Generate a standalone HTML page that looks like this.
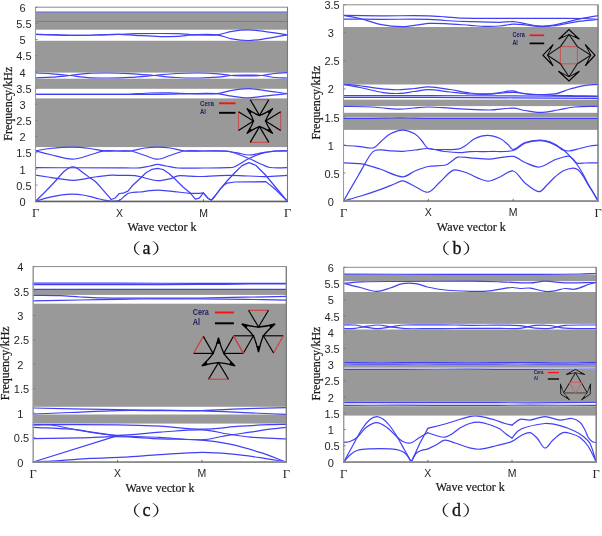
<!DOCTYPE html>
<html><head><meta charset="utf-8"><title>Band structures</title>
<style>html,body{margin:0;padding:0;background:#fff;}svg{display:block;}</style>
</head><body>
<svg width="602" height="536" viewBox="0 0 602 536"><rect x="0" y="0" width="602" height="536" fill="#ffffff"/>
<rect x="35.50" y="12.60" width="252.00" height="17.10" fill="#999999"/>
<rect x="35.50" y="40.80" width="252.00" height="31.80" fill="#999999"/>
<rect x="35.50" y="78.70" width="252.00" height="10.10" fill="#999999"/>
<rect x="35.50" y="98.40" width="252.00" height="48.70" fill="#999999"/>
<line x1="35.50" y1="12.20" x2="287.50" y2="12.20" stroke="#6262b8" stroke-width="1.30"/>
<line x1="35.50" y1="21.50" x2="287.50" y2="21.50" stroke="#7a7aa6" stroke-width="1.00"/>
<path d="M35.50 34.30 C42.33 34.50 49.17 34.73 56.00 34.90 C62.67 35.06 69.33 35.30 76.00 35.30 C84.00 35.30 92.00 35.08 100.00 34.90 C106.50 34.75 113.00 34.52 119.50 34.30 C124.67 34.12 129.83 33.80 135.00 33.70 C143.33 33.54 151.67 33.50 160.00 33.50 C166.00 33.50 172.00 33.54 178.00 33.70 C180.67 33.77 183.34 33.99 186.00 34.20 C188.00 34.36 189.99 34.76 192.00 34.80 C200.33 34.96 208.75 35.52 217.00 34.80 C222.08 34.36 226.94 32.10 232.00 31.30 C237.27 30.47 242.67 29.90 248.00 29.90 C253.33 29.90 258.69 30.64 264.00 31.30 C271.86 32.27 279.67 33.63 287.50 34.80" fill="none" stroke="#4040f6" stroke-width="1.20" stroke-linejoin="round" stroke-linecap="round"/>
<path d="M35.50 34.30 C42.33 34.50 49.17 34.73 56.00 34.90 C62.67 35.06 69.33 35.30 76.00 35.30 C84.00 35.30 92.00 35.08 100.00 34.90 C106.50 34.75 113.00 34.23 119.50 34.30 C124.67 34.36 129.83 35.01 135.00 35.30 C143.33 35.77 151.66 36.41 160.00 36.60 C166.00 36.74 172.01 36.53 178.00 36.30 C180.67 36.20 183.34 35.89 186.00 35.60 C188.01 35.39 189.99 34.85 192.00 34.80 C200.32 34.59 208.78 33.96 217.00 34.80 C222.11 35.32 226.92 37.97 232.00 38.90 C237.25 39.87 242.67 40.50 248.00 40.50 C253.33 40.50 258.70 39.67 264.00 38.90 C271.87 37.77 279.67 36.17 287.50 34.80" fill="none" stroke="#4040f6" stroke-width="1.20" stroke-linejoin="round" stroke-linecap="round"/>
<path d="M35.50 73.00 C41.00 73.27 46.51 73.40 52.00 73.80 C57.88 74.23 63.74 74.88 69.60 75.50 C75.74 76.15 81.85 77.20 88.00 77.60 C94.65 78.03 101.33 78.03 108.00 78.00 C115.33 77.97 122.68 77.80 130.00 77.40 C137.94 76.97 145.87 76.17 153.80 75.50 C161.20 74.87 168.59 73.91 176.00 73.50 C183.65 73.08 191.34 72.95 199.00 73.00 C205.34 73.05 211.69 73.31 218.00 73.80 C222.45 74.14 226.85 75.17 231.30 75.50 C236.18 75.87 241.10 75.90 246.00 75.90 C251.17 75.90 256.36 75.93 261.50 75.50 C266.03 75.13 270.48 73.99 275.00 73.50 C279.15 73.05 283.33 72.97 287.50 72.70" fill="none" stroke="#4040f6" stroke-width="1.20" stroke-linejoin="round" stroke-linecap="round"/>
<path d="M35.50 77.80 C41.00 77.60 46.51 77.57 52.00 77.20 C57.88 76.80 63.74 76.12 69.60 75.50 C75.74 74.85 81.85 73.80 88.00 73.40 C94.65 72.97 101.33 72.97 108.00 73.00 C115.33 73.03 122.68 73.20 130.00 73.60 C137.94 74.03 145.87 74.83 153.80 75.50 C161.20 76.13 168.59 77.09 176.00 77.50 C183.65 77.92 191.34 78.05 199.00 78.00 C205.34 77.95 211.69 77.69 218.00 77.20 C222.45 76.86 226.85 75.83 231.30 75.50 C236.18 75.13 241.10 75.10 246.00 75.10 C251.17 75.10 256.36 75.07 261.50 75.50 C266.03 75.87 270.48 77.07 275.00 77.50 C279.14 77.90 283.33 77.83 287.50 78.00" fill="none" stroke="#4040f6" stroke-width="1.20" stroke-linejoin="round" stroke-linecap="round"/>
<path d="M35.50 94.40 C63.50 94.40 91.50 94.46 119.50 94.40 C123.00 94.39 126.50 94.36 130.00 94.20 C136.67 93.89 143.33 93.22 150.00 93.00 C156.66 92.78 163.34 92.78 170.00 92.90 C176.67 93.02 183.33 93.59 190.00 93.70 C199.00 93.85 208.08 94.42 217.00 93.70 C222.08 93.29 226.95 91.11 232.00 90.30 C237.28 89.45 242.67 88.70 248.00 88.70 C253.33 88.70 258.68 89.63 264.00 90.30 C271.85 91.29 279.67 92.57 287.50 93.70" fill="none" stroke="#4040f6" stroke-width="1.20" stroke-linejoin="round" stroke-linecap="round"/>
<path d="M35.50 94.40 C63.50 94.40 91.50 94.37 119.50 94.40 C123.00 94.40 126.50 94.50 130.00 94.50 C136.67 94.50 143.33 94.45 150.00 94.40 C156.67 94.35 163.33 94.32 170.00 94.20 C176.67 94.08 183.33 93.77 190.00 93.70 C199.00 93.60 208.04 93.17 217.00 93.70 C222.04 94.00 226.98 95.54 232.00 96.20 C237.31 96.90 242.67 97.80 248.00 97.80 C253.33 97.80 258.67 96.75 264.00 96.20 C271.84 95.39 279.67 94.53 287.50 93.70" fill="none" stroke="#4040f6" stroke-width="1.20" stroke-linejoin="round" stroke-linecap="round"/>
<path d="M35.50 150.80 C40.33 150.03 45.14 148.97 50.00 148.50 C57.44 147.77 64.94 147.20 72.40 147.20 C78.27 147.20 84.16 147.83 90.00 148.50 C94.63 149.03 99.17 150.41 103.80 150.80 C109.00 151.24 114.27 150.96 119.50 151.00 C123.27 151.03 127.08 151.44 130.80 151.00 C135.58 150.44 140.22 148.68 145.00 148.00 C149.16 147.41 153.40 147.20 157.60 147.20 C161.73 147.20 165.91 147.42 170.00 148.00 C174.84 148.69 179.54 150.56 184.40 151.00 C190.71 151.56 197.13 151.00 203.50 151.00 C210.67 151.00 217.86 150.62 225.00 151.00 C229.03 151.22 233.01 152.14 237.00 152.80 C241.01 153.47 244.99 155.00 249.00 155.00 C253.33 155.00 257.66 153.47 262.00 152.80 C266.32 152.13 270.65 151.34 275.00 151.00 C279.15 150.67 283.33 150.87 287.50 150.80" fill="none" stroke="#4040f6" stroke-width="1.20" stroke-linejoin="round" stroke-linecap="round"/>
<path d="M35.50 150.80 C40.33 152.03 45.13 153.41 50.00 154.50 C57.43 156.17 64.95 159.01 72.40 159.10 C78.29 159.17 84.18 156.54 90.00 155.00 C94.65 153.77 99.09 151.44 103.80 150.80 C108.92 150.11 114.27 150.96 119.50 151.00 C123.27 151.03 127.13 150.35 130.80 151.00 C135.63 151.85 140.25 154.05 145.00 155.50 C149.19 156.78 153.40 159.20 157.60 159.20 C161.74 159.20 165.88 156.76 170.00 155.50 C174.81 154.03 179.47 151.66 184.40 151.00 C190.64 150.16 197.13 150.97 203.50 151.00 C210.67 151.04 217.85 150.90 225.00 151.20 C227.35 151.30 229.76 151.52 232.00 152.20 C237.76 153.95 243.41 156.21 249.00 158.50 C253.41 160.31 257.62 162.62 262.00 164.50 C264.62 165.62 267.21 167.15 270.00 167.50 C275.71 168.22 281.67 167.63 287.50 167.70" fill="none" stroke="#4040f6" stroke-width="1.20" stroke-linejoin="round" stroke-linecap="round"/>
<path d="M35.50 167.70 C63.50 167.77 91.50 167.87 119.50 167.90 C126.33 167.91 133.20 168.22 140.00 167.80 C143.37 167.59 146.67 166.64 150.00 166.00 C152.54 165.51 155.06 164.40 157.60 164.40 C160.39 164.40 163.19 165.50 166.00 166.00 C169.99 166.70 173.96 167.78 178.00 168.00 C186.46 168.45 195.00 168.05 203.50 168.00 C211.67 167.95 219.84 167.97 228.00 167.70 C230.01 167.63 232.18 167.80 234.00 167.00 C239.18 164.73 243.85 161.02 249.00 158.50 C253.18 156.45 257.53 154.55 262.00 153.30 C266.20 152.12 270.64 151.63 275.00 151.20 C279.14 150.79 283.33 150.93 287.50 150.80" fill="none" stroke="#4040f6" stroke-width="1.20" stroke-linejoin="round" stroke-linecap="round"/>
<path d="M35.50 175.10 C40.33 175.83 45.16 176.60 50.00 177.30 C57.46 178.37 64.93 180.08 72.40 180.40 C76.60 180.58 80.81 179.43 85.00 178.80 C88.35 178.30 91.64 177.45 95.00 177.00 C100.64 176.25 106.32 175.57 112.00 175.20 C114.49 175.04 117.00 175.36 119.50 175.40 C124.67 175.49 129.89 175.08 135.00 175.60 C138.39 175.95 141.66 177.25 145.00 178.00 C149.19 178.95 153.38 180.56 157.60 180.70 C161.71 180.83 165.95 179.77 170.00 178.80 C172.75 178.14 175.23 176.16 178.00 175.80 C181.89 175.29 186.00 176.09 190.00 176.20 C194.50 176.32 199.00 176.57 203.50 176.50 C207.34 176.44 211.16 175.96 215.00 175.80 C220.00 175.59 225.00 175.37 230.00 175.40 C236.33 175.44 242.67 175.78 249.00 176.00 C254.33 176.18 259.67 176.68 265.00 176.60 C272.50 176.48 280.00 175.80 287.50 175.40" fill="none" stroke="#4040f6" stroke-width="1.20" stroke-linejoin="round" stroke-linecap="round"/>
<path d="M35.50 201.30 C38.67 198.20 41.89 195.16 45.00 192.00 C48.39 188.56 51.72 185.05 55.00 181.50 C57.72 178.55 60.17 175.33 63.00 172.50 C64.50 171.00 66.20 169.59 68.00 168.50 C69.33 167.69 70.91 166.85 72.40 166.80 C73.91 166.75 75.63 167.42 77.00 168.20 C79.16 169.42 80.97 171.30 83.00 172.80 C85.31 174.50 87.66 176.14 90.00 177.80 C91.66 178.98 93.53 179.91 95.00 181.30 C98.20 184.34 101.05 187.79 104.00 191.10 C106.45 193.85 108.80 196.70 111.20 199.50" fill="none" stroke="#4040f6" stroke-width="1.20" stroke-linejoin="round" stroke-linecap="round"/>
<path d="M111.20 199.50 L114.80 198.30 L119.30 193.50 L123.10 193.20 L127.90 191.10 L133.00 185.00 L139.30 179.20 L146.00 172.80 L152.00 169.30 L157.60 168.40 L163.00 169.50 L169.00 173.50 L176.00 180.00 L183.00 187.00 L190.60 193.30 L195.30 199.20 L199.30 198.20 L203.30 192.90 L207.90 198.20 L211.50 200.20 L215.00 196.00 L220.00 189.30 L227.00 181.00 L235.00 172.50 L242.00 165.60 L249.00 162.60 L256.00 165.50 L265.00 174.50 L275.00 186.50 L287.50 201.30" fill="none" stroke="#4040f6" stroke-width="1.20" stroke-linejoin="round" stroke-linecap="round"/>
<path d="M35.50 201.30 C40.33 199.93 45.13 198.40 50.00 197.20 C53.96 196.23 57.97 195.36 62.00 194.80 C65.43 194.32 68.94 194.07 72.40 194.10 C75.94 194.13 79.51 194.43 83.00 195.00 C87.04 195.66 91.01 196.83 95.00 197.80 C98.01 198.53 100.97 199.49 104.00 200.10 C106.30 200.56 108.66 200.91 111.00 201.00 C113.66 201.11 116.57 201.42 119.00 200.70 C120.60 200.22 121.74 198.50 123.10 197.40 C124.70 196.10 126.11 194.40 127.90 193.50 C129.41 192.74 131.28 192.61 133.00 192.40 C135.31 192.11 137.68 192.25 140.00 192.00 C143.34 191.65 146.65 190.94 150.00 190.60 C152.52 190.34 155.07 190.17 157.60 190.20 C160.73 190.24 163.87 190.52 167.00 190.80 C170.67 191.12 174.33 191.60 178.00 192.00 C182.00 192.43 185.99 193.04 190.00 193.30 C192.66 193.47 195.34 193.38 198.00 193.30 C199.77 193.25 201.53 193.03 203.30 192.90" fill="none" stroke="#4040f6" stroke-width="1.20" stroke-linejoin="round" stroke-linecap="round"/>
<path d="M203.30 192.90 L207.90 198.20 L211.50 200.20 L215.00 196.00 L220.00 189.30 L224.00 185.00 L227.00 183.20 L235.00 182.00 L250.00 181.90 L265.80 181.60 L275.00 189.00 L287.50 201.30" fill="none" stroke="#4040f6" stroke-width="1.20" stroke-linejoin="round" stroke-linecap="round"/>
<text x="200.00" y="105.90" font-size="7.60" font-family='"Liberation Sans", Arial, sans-serif' font-weight="bold" fill="#22225e" textLength="13.90" lengthAdjust="spacingAndGlyphs">Cera</text>
<text x="200.00" y="114.30" font-size="7.60" font-family='"Liberation Sans", Arial, sans-serif' font-weight="bold" fill="#22225e" textLength="5.90" lengthAdjust="spacingAndGlyphs">Al</text>
<line x1="219.00" y1="103.30" x2="235.50" y2="103.30" stroke="#ff1010" stroke-width="1.90"/>
<line x1="219.00" y1="112.80" x2="235.50" y2="112.80" stroke="#000" stroke-width="1.90"/>
<line x1="250.2" y1="99.7" x2="268.8" y2="99.7" stroke="#c85050" stroke-width="1.1"/>
<line x1="250.2" y1="142.4" x2="268.8" y2="142.4" stroke="#c85050" stroke-width="1.1"/>
<line x1="238.5" y1="111.8" x2="238.5" y2="130.4" stroke="#c85050" stroke-width="1.1"/>
<line x1="280.7" y1="111.8" x2="280.7" y2="130.4" stroke="#c85050" stroke-width="1.1"/>
<line x1="250.2" y1="99.7" x2="259.5" y2="115.4" stroke="#000" stroke-width="1.2"/>
<line x1="268.8" y1="99.7" x2="259.5" y2="115.4" stroke="#000" stroke-width="1.2"/>
<line x1="250.2" y1="142.4" x2="259.5" y2="126.6" stroke="#000" stroke-width="1.2"/>
<line x1="268.8" y1="142.4" x2="259.5" y2="126.6" stroke="#000" stroke-width="1.2"/>
<line x1="238.5" y1="111.8" x2="253.4" y2="120.9" stroke="#000" stroke-width="1.2"/>
<line x1="238.5" y1="130.4" x2="253.4" y2="120.9" stroke="#000" stroke-width="1.2"/>
<line x1="280.7" y1="111.8" x2="265.6" y2="120.9" stroke="#000" stroke-width="1.2"/>
<line x1="280.7" y1="130.4" x2="265.6" y2="120.9" stroke="#000" stroke-width="1.2"/>
<path d="M246.80 108.40 Q254.44 113.72 259.50 115.40 Q264.84 113.72 272.80 108.40 Q267.28 115.92 265.60 120.90 Q267.28 125.96 272.80 133.50 Q264.84 128.24 259.50 126.60 Q254.44 128.24 246.80 133.50 Q252.00 125.96 253.40 120.90 Q252.00 115.92 246.80 108.40 Z" fill="none" stroke="#000" stroke-width="1.25" stroke-linejoin="miter"/>
<path d="M246.80 108.40 L249.77 114.03 L252.52 111.55 Z" fill="#000"/>
<path d="M272.80 108.40 L266.81 111.55 L269.56 114.03 Z" fill="#000"/>
<path d="M272.80 133.50 L269.56 127.83 L266.81 130.40 Z" fill="#000"/>
<path d="M246.80 133.50 L252.52 130.40 L249.77 127.83 Z" fill="#000"/>
<circle cx="259.50" cy="115.40" r="0.9" fill="#000"/>
<circle cx="265.60" cy="120.90" r="0.9" fill="#000"/>
<circle cx="259.50" cy="126.60" r="0.9" fill="#000"/>
<circle cx="253.40" cy="120.90" r="0.9" fill="#000"/>
<rect x="35.50" y="7.20" width="252.00" height="194.10" fill="none" stroke="#8a8a8a" stroke-width="1"/>
<line x1="287.50" y1="7.20" x2="287.50" y2="201.30" stroke="#787878" stroke-width="1.1"/>
<line x1="35.00" y1="201.50" x2="288.00" y2="201.50" stroke="#5e5e5e" stroke-width="1.50"/>
<line x1="35.50" y1="7.20" x2="35.50" y2="201.30" stroke="#9c9c9c" stroke-width="1.1"/>
<line x1="35.50" y1="201.30" x2="37.70" y2="201.30" stroke="#777" stroke-width="0.8"/>
<text x="22.60" y="205.90" font-size="11.00" font-family='"Liberation Sans", Arial, sans-serif' text-anchor="middle" fill="#262626">0</text>
<line x1="35.50" y1="185.12" x2="37.70" y2="185.12" stroke="#777" stroke-width="0.8"/>
<text x="23.90" y="189.72" font-size="11.00" font-family='"Liberation Sans", Arial, sans-serif' text-anchor="middle" fill="#262626">0.5</text>
<line x1="35.50" y1="168.95" x2="37.70" y2="168.95" stroke="#777" stroke-width="0.8"/>
<text x="22.60" y="173.55" font-size="11.00" font-family='"Liberation Sans", Arial, sans-serif' text-anchor="middle" fill="#262626">1</text>
<line x1="35.50" y1="152.78" x2="37.70" y2="152.78" stroke="#777" stroke-width="0.8"/>
<text x="23.90" y="157.38" font-size="11.00" font-family='"Liberation Sans", Arial, sans-serif' text-anchor="middle" fill="#262626">1.5</text>
<line x1="35.50" y1="136.60" x2="37.70" y2="136.60" stroke="#777" stroke-width="0.8"/>
<text x="22.60" y="141.20" font-size="11.00" font-family='"Liberation Sans", Arial, sans-serif' text-anchor="middle" fill="#262626">2</text>
<line x1="35.50" y1="120.43" x2="37.70" y2="120.43" stroke="#777" stroke-width="0.8"/>
<text x="23.90" y="125.03" font-size="11.00" font-family='"Liberation Sans", Arial, sans-serif' text-anchor="middle" fill="#262626">2.5</text>
<line x1="35.50" y1="104.25" x2="37.70" y2="104.25" stroke="#777" stroke-width="0.8"/>
<text x="22.60" y="108.85" font-size="11.00" font-family='"Liberation Sans", Arial, sans-serif' text-anchor="middle" fill="#262626">3</text>
<line x1="35.50" y1="88.08" x2="37.70" y2="88.08" stroke="#777" stroke-width="0.8"/>
<text x="23.90" y="92.67" font-size="11.00" font-family='"Liberation Sans", Arial, sans-serif' text-anchor="middle" fill="#262626">3.5</text>
<line x1="35.50" y1="71.90" x2="37.70" y2="71.90" stroke="#777" stroke-width="0.8"/>
<text x="22.60" y="76.50" font-size="11.00" font-family='"Liberation Sans", Arial, sans-serif' text-anchor="middle" fill="#262626">4</text>
<line x1="35.50" y1="55.72" x2="37.70" y2="55.72" stroke="#777" stroke-width="0.8"/>
<text x="23.90" y="60.32" font-size="11.00" font-family='"Liberation Sans", Arial, sans-serif' text-anchor="middle" fill="#262626">4.5</text>
<line x1="35.50" y1="39.55" x2="37.70" y2="39.55" stroke="#777" stroke-width="0.8"/>
<text x="22.60" y="44.15" font-size="11.00" font-family='"Liberation Sans", Arial, sans-serif' text-anchor="middle" fill="#262626">5</text>
<line x1="35.50" y1="23.38" x2="37.70" y2="23.38" stroke="#777" stroke-width="0.8"/>
<text x="23.90" y="27.98" font-size="11.00" font-family='"Liberation Sans", Arial, sans-serif' text-anchor="middle" fill="#262626">5.5</text>
<line x1="35.50" y1="7.20" x2="37.70" y2="7.20" stroke="#777" stroke-width="0.8"/>
<text x="22.60" y="11.80" font-size="11.00" font-family='"Liberation Sans", Arial, sans-serif' text-anchor="middle" fill="#262626">6</text>
<line x1="119.50" y1="201.30" x2="119.50" y2="199.10" stroke="#555" stroke-width="0.8"/>
<line x1="203.50" y1="201.30" x2="203.50" y2="199.10" stroke="#555" stroke-width="0.8"/>
<text x="35.50" y="216.80" font-size="12.50" font-family='"Liberation Serif", "Times New Roman", serif' text-anchor="middle" fill="#262626">Γ</text>
<text x="287.50" y="216.80" font-size="12.50" font-family='"Liberation Serif", "Times New Roman", serif' text-anchor="middle" fill="#262626">Γ</text>
<text x="119.50" y="216.50" font-size="10.50" font-family='"Liberation Sans", Arial, sans-serif' text-anchor="middle" fill="#262626">X</text>
<text x="203.50" y="216.50" font-size="10.50" font-family='"Liberation Sans", Arial, sans-serif' text-anchor="middle" fill="#262626">M</text>
<text x="161.90" y="231.00" font-size="12.00" font-family='"Liberation Serif", "Times New Roman", serif' text-anchor="middle" fill="#1a1a1a" stroke="#1a1a1a" stroke-width="0.22">Wave vector k</text>
<text x="11.70" y="103.70" font-size="12" font-family='"Liberation Serif", "Times New Roman", serif' text-anchor="middle" fill="#1a1a1a" stroke="#1a1a1a" stroke-width="0.22" transform="rotate(-90 11.70 103.70)">Frequency/kHz</text>
<text transform="translate(120.57 253.60) scale(1.35 1)" font-size="15.3" font-family='"Liberation Serif", "Noto Serif CJK SC", "Noto Sans CJK SC", serif' fill="#1a1a1a">（</text>
<text x="142.40" y="253.60" font-size="18.00" font-family='"Liberation Serif", "Times New Roman", serif' text-anchor="start" fill="#111" stroke="#111" stroke-width="0.3">a</text>
<text transform="translate(151.36 253.60) scale(1.35 1)" font-size="15.3" font-family='"Liberation Serif", "Noto Serif CJK SC", "Noto Sans CJK SC", serif' fill="#1a1a1a">）</text>
<rect x="343.50" y="27.00" width="254.50" height="57.50" fill="#999999"/>
<rect x="343.50" y="99.70" width="254.50" height="6.40" fill="#999999"/>
<rect x="343.50" y="112.80" width="254.50" height="4.20" fill="#999999"/>
<rect x="343.50" y="117.90" width="254.50" height="12.00" fill="#999999"/>
<line x1="343.50" y1="117.40" x2="598.00" y2="117.40" stroke="#c9c9c0" stroke-width="0.70"/>
<path d="M343.50 15.40 C355.67 15.53 367.83 15.74 380.00 15.80 C396.10 15.88 412.21 15.55 428.30 15.80 C433.87 15.89 439.44 16.42 445.00 16.80 C450.67 17.19 456.32 17.98 462.00 18.10 C479.05 18.48 496.13 18.27 513.20 18.30 C528.80 18.33 544.40 18.26 560.00 18.30 C568.33 18.32 576.67 18.28 585.00 18.50 C589.34 18.61 593.67 19.03 598.00 19.30" fill="none" stroke="#4040f6" stroke-width="1.20" stroke-linejoin="round" stroke-linecap="round"/>
<path d="M343.50 19.10 C355.67 19.17 367.83 19.27 380.00 19.30 C396.10 19.34 412.21 19.00 428.30 19.30 C433.88 19.40 439.43 20.19 445.00 20.50 C453.33 20.96 461.66 21.33 470.00 21.60 C480.00 21.93 490.00 22.30 500.00 22.30 C504.40 22.30 508.82 21.39 513.20 21.60 C517.16 21.79 521.07 22.82 525.00 23.50 C529.34 24.25 533.63 25.61 538.00 25.90 C542.63 26.21 547.38 25.88 552.00 25.30 C556.38 24.75 560.68 23.50 565.00 22.50 C570.02 21.34 574.96 19.85 580.00 18.80 C585.96 17.55 592.00 16.67 598.00 15.60" fill="none" stroke="#4040f6" stroke-width="1.20" stroke-linejoin="round" stroke-linecap="round"/>
<path d="M343.50 15.40 C349.00 16.43 354.57 17.18 360.00 18.50 C366.74 20.14 373.21 22.99 380.00 24.30 C387.21 25.69 394.67 26.55 402.00 26.60 C408.00 26.65 414.01 25.33 420.00 24.60 C422.77 24.26 425.51 23.51 428.30 23.40 C433.85 23.18 439.44 23.35 445.00 23.60 C453.34 23.98 461.67 24.72 470.00 25.30 C475.00 25.65 479.99 26.28 485.00 26.40 C489.99 26.52 495.02 26.39 500.00 26.00 C504.42 25.66 508.78 24.39 513.20 24.20 C517.12 24.03 521.08 24.54 525.00 24.90 C529.35 25.30 533.65 26.32 538.00 26.50 C542.65 26.69 547.36 26.46 552.00 26.00 C556.36 25.56 560.67 24.54 565.00 23.80 C570.00 22.94 574.97 21.86 580.00 21.20 C585.97 20.42 592.00 20.07 598.00 19.50" fill="none" stroke="#4040f6" stroke-width="1.20" stroke-linejoin="round" stroke-linecap="round"/>
<path d="M343.50 84.30 C348.33 84.70 353.18 84.95 358.00 85.50 C362.82 86.05 367.59 86.96 372.40 87.60 C376.92 88.20 381.45 88.86 386.00 89.20 C390.82 89.56 395.67 89.82 400.50 89.70 C405.01 89.59 409.50 88.95 414.00 88.50 C418.87 88.01 423.74 86.76 428.60 86.90 C435.74 87.10 442.89 88.45 450.00 89.50 C456.69 90.49 463.29 92.21 470.00 93.00 C475.76 93.68 481.61 94.00 487.40 93.90 C491.61 93.83 495.80 93.00 500.00 92.50 C504.40 91.97 508.86 90.60 513.20 90.80 C516.20 90.94 519.00 92.90 522.00 93.50 C525.37 94.17 528.85 94.56 532.30 94.60 C539.75 94.69 547.38 94.99 554.70 93.90 C559.95 93.12 564.85 90.47 570.00 89.00 C574.55 87.70 579.14 86.38 583.80 85.60 C588.47 84.82 593.27 84.73 598.00 84.30" fill="none" stroke="#4040f6" stroke-width="1.20" stroke-linejoin="round" stroke-linecap="round"/>
<path d="M343.50 84.30 C349.00 85.37 354.52 86.35 360.00 87.50 C367.75 89.12 375.39 91.46 383.20 92.60 C388.89 93.43 394.76 93.61 400.50 93.40 C405.02 93.24 409.49 92.09 414.00 91.50 C418.86 90.86 423.73 89.63 428.60 89.70 C435.73 89.80 442.86 91.26 450.00 92.00 C456.66 92.69 463.32 93.63 470.00 94.00 C476.65 94.37 483.35 94.46 490.00 94.20 C497.75 93.90 505.47 92.34 513.20 92.30 C518.81 92.27 524.39 93.56 530.00 94.00 C536.66 94.52 543.33 94.93 550.00 95.20 C558.33 95.53 566.67 95.64 575.00 95.80 C582.67 95.94 590.33 96.00 598.00 96.10" fill="none" stroke="#4040f6" stroke-width="1.20" stroke-linejoin="round" stroke-linecap="round"/>
<path d="M343.50 95.70 C372.33 95.70 401.17 95.67 430.00 95.70 C457.67 95.73 485.33 95.75 513.00 95.90 C541.33 96.05 569.67 96.37 598.00 96.60" fill="none" stroke="#4040f6" stroke-width="1.20" stroke-linejoin="round" stroke-linecap="round"/>
<path d="M343.50 97.40 C372.33 97.40 401.17 97.33 430.00 97.40 C457.67 97.47 485.33 97.65 513.00 97.80 C541.33 97.95 569.67 98.13 598.00 98.30" fill="none" stroke="#4040f6" stroke-width="1.20" stroke-linejoin="round" stroke-linecap="round"/>
<path d="M343.50 106.30 C353.00 106.53 362.51 106.55 372.00 107.00 C376.68 107.22 381.33 107.94 386.00 108.30 C390.83 108.67 395.67 109.25 400.50 109.20 C405.00 109.15 409.50 108.35 414.00 108.00 C418.86 107.62 423.73 106.97 428.60 107.00 C435.73 107.04 442.87 107.80 450.00 108.20 C456.67 108.57 463.33 109.00 470.00 109.30 C476.66 109.60 483.34 110.17 490.00 110.00 C497.74 109.80 505.51 108.09 513.20 108.20 C517.17 108.26 521.04 109.88 525.00 110.50 C529.98 111.28 535.00 112.48 540.00 112.40 C546.00 112.31 552.02 110.92 558.00 110.00 C563.69 109.12 569.28 107.53 575.00 107.00 C582.62 106.30 590.33 106.53 598.00 106.30" fill="none" stroke="#4040f6" stroke-width="1.20" stroke-linejoin="round" stroke-linecap="round"/>
<path d="M343.50 118.40 C352.33 118.40 361.17 118.44 370.00 118.40 C375.00 118.38 380.00 118.30 385.00 118.20 C390.00 118.10 395.00 117.80 400.00 117.80 C405.00 117.80 410.00 118.10 415.00 118.20 C420.00 118.30 425.00 118.39 430.00 118.40 C453.33 118.45 476.67 118.41 500.00 118.40 C532.67 118.38 565.33 118.33 598.00 118.30" fill="none" stroke="#4040f6" stroke-width="1.20" stroke-linejoin="round" stroke-linecap="round"/>
<path d="M343.50 145.50 C348.33 145.77 353.17 145.93 358.00 146.30 C363.17 146.70 368.79 148.78 373.50 147.80 C376.46 147.18 378.50 143.59 381.00 141.50 C384.00 138.99 386.61 135.79 390.00 134.00 C393.81 131.99 398.40 130.10 402.60 130.10 C406.74 130.10 411.33 131.94 415.00 134.00 C417.80 135.57 419.77 138.57 422.00 141.00 C424.20 143.40 425.47 147.45 428.30 148.50 C433.14 150.29 439.43 149.37 445.00 149.50 C449.33 149.60 453.81 149.93 458.00 149.20 C460.48 148.77 462.84 147.36 465.00 146.00 C468.51 143.79 471.31 140.26 475.00 138.50 C478.78 136.70 483.26 135.30 487.40 135.30 C491.60 135.30 496.12 136.77 500.00 138.50 C502.99 139.83 505.44 142.37 508.00 144.50 C509.84 146.04 511.25 149.73 513.20 149.50 C516.91 149.06 520.77 144.02 525.00 142.50 C529.60 140.85 534.80 140.14 539.70 140.00 C543.13 139.90 546.73 140.72 550.00 141.80 C552.70 142.69 555.13 144.43 557.60 145.90 C559.46 147.00 561.33 148.14 563.00 149.50 C565.03 151.14 566.92 152.99 568.70 154.90 C571.58 157.99 574.47 161.12 577.00 164.50 C579.24 167.49 581.15 170.75 583.00 174.00 C584.82 177.21 586.21 180.67 588.00 183.90 C589.54 186.67 591.40 189.26 593.00 192.00 C594.73 194.96 596.33 198.00 598.00 201.00" fill="none" stroke="#4040f6" stroke-width="1.20" stroke-linejoin="round" stroke-linecap="round"/>
<path d="M343.50 201.00 C348.33 192.67 353.16 184.33 358.00 176.00 C362.16 168.83 365.88 161.29 370.50 154.50 C371.71 152.72 373.58 151.07 375.50 150.30 C377.41 149.53 379.84 149.83 382.00 149.90 C384.67 149.99 387.32 150.62 390.00 150.80 C394.19 151.08 398.41 151.43 402.60 151.30 C406.74 151.17 410.87 150.45 415.00 150.00 C419.44 149.52 423.89 148.28 428.30 148.50 C433.89 148.78 439.40 150.78 445.00 151.50 C449.97 152.14 455.00 152.58 460.00 152.60 C463.34 152.61 466.66 151.72 470.00 151.60 C476.66 151.36 483.34 151.67 490.00 151.50 C497.74 151.30 505.89 152.21 513.20 150.50 C517.55 149.48 520.75 144.87 525.00 143.30 C529.59 141.60 534.80 140.84 539.70 140.70 C543.14 140.60 546.71 141.54 550.00 142.60 C552.68 143.47 555.15 145.07 557.60 146.50 C559.15 147.40 560.37 148.94 562.00 149.60 C564.07 150.44 566.47 151.14 568.70 151.00 C572.47 150.77 576.24 149.38 580.00 148.50 C583.34 147.71 586.63 146.62 590.00 146.00 C592.63 145.52 595.33 145.47 598.00 145.20" fill="none" stroke="#4040f6" stroke-width="1.20" stroke-linejoin="round" stroke-linecap="round"/>
<path d="M343.50 162.80 C349.53 163.17 355.67 162.89 361.60 163.90 C367.84 164.96 373.93 167.09 380.00 169.00 C387.60 171.39 395.18 176.38 402.60 176.80 C406.85 177.04 410.77 172.69 415.00 171.00 C419.34 169.26 423.74 167.39 428.30 166.50 C434.01 165.39 440.24 166.29 445.80 165.00 C448.14 164.46 449.94 162.35 452.00 161.00 C453.91 159.75 455.56 157.58 457.70 157.20 C461.56 156.51 465.90 157.56 470.00 157.80 C476.67 158.19 483.35 159.32 490.00 159.10 C497.75 158.85 505.76 155.68 513.20 156.40 C517.43 156.81 520.91 160.86 525.00 162.50 C529.74 164.40 534.95 167.45 539.70 167.00 C544.91 166.51 549.74 161.90 554.90 159.70 C557.17 158.73 559.60 158.11 562.00 157.50 C564.20 156.94 566.61 155.91 568.70 156.20 C570.27 156.41 571.69 157.91 573.00 159.00 C574.46 160.21 575.33 162.54 577.00 163.10 C579.33 163.88 582.33 163.03 585.00 163.00 C589.33 162.96 593.67 162.93 598.00 162.90" fill="none" stroke="#4040f6" stroke-width="1.20" stroke-linejoin="round" stroke-linecap="round"/>
<path d="M343.50 201.00 C349.00 199.43 354.54 198.00 360.00 196.30 C366.71 194.20 373.39 191.98 380.00 189.60 C385.05 187.78 389.99 185.63 395.00 183.70 C397.52 182.73 400.11 180.55 402.60 180.90 C406.78 181.49 410.85 184.67 415.00 186.50 C419.42 188.44 424.28 192.92 428.30 192.20 C432.61 191.42 436.12 185.42 440.00 182.00 C444.48 178.05 448.38 172.05 453.40 170.10 C456.71 168.82 461.27 171.09 465.00 172.30 C472.47 174.72 479.59 180.01 487.00 181.00 C491.26 181.57 495.77 178.61 500.00 177.00 C504.51 175.28 509.34 170.07 513.20 171.00 C517.68 172.07 520.66 179.51 525.00 183.00 C529.26 186.41 534.51 191.29 539.00 191.70 C541.84 191.96 544.45 187.36 547.00 185.00 C549.75 182.46 552.09 179.46 554.90 177.00 C557.42 174.79 560.04 172.47 563.00 171.00 C566.00 169.51 569.55 168.31 572.80 168.10 C574.65 167.98 576.83 168.86 578.30 170.00 C580.23 171.49 581.59 173.89 583.00 176.00 C584.82 178.73 586.30 181.69 588.00 184.50 C589.63 187.19 591.37 189.81 593.00 192.50 C594.70 195.31 596.33 198.17 598.00 201.00" fill="none" stroke="#4040f6" stroke-width="1.20" stroke-linejoin="round" stroke-linecap="round"/>
<text x="512.40" y="36.90" font-size="6.40" font-family='"Liberation Sans", Arial, sans-serif' font-weight="bold" fill="#22225e" textLength="12.40" lengthAdjust="spacingAndGlyphs">Cera</text>
<text x="512.40" y="44.80" font-size="6.40" font-family='"Liberation Sans", Arial, sans-serif' font-weight="bold" fill="#22225e" textLength="5.50" lengthAdjust="spacingAndGlyphs">Al</text>
<line x1="529.60" y1="35.30" x2="544.20" y2="35.30" stroke="#ff1010" stroke-width="1.70"/>
<line x1="529.60" y1="43.40" x2="544.20" y2="43.40" stroke="#000" stroke-width="1.70"/>
<rect x="560.4" y="46.6" width="17.0" height="17.2" fill="none" stroke="#c05a5a" stroke-width="1.1"/>
<line x1="569.0" y1="34.5" x2="560.4" y2="46.6" stroke="#111" stroke-width="1.1"/>
<line x1="569.0" y1="34.5" x2="577.4" y2="46.6" stroke="#111" stroke-width="1.1"/>
<line x1="569.0" y1="76.8" x2="577.4" y2="63.8" stroke="#111" stroke-width="1.1"/>
<line x1="569.0" y1="76.8" x2="560.4" y2="63.8" stroke="#111" stroke-width="1.1"/>
<line x1="547.5" y1="55.2" x2="560.4" y2="46.6" stroke="#111" stroke-width="1.1"/>
<line x1="547.5" y1="55.2" x2="560.4" y2="63.8" stroke="#111" stroke-width="1.1"/>
<line x1="590.8" y1="55.2" x2="577.4" y2="46.6" stroke="#111" stroke-width="1.1"/>
<line x1="590.8" y1="55.2" x2="577.4" y2="63.8" stroke="#111" stroke-width="1.1"/>
<path d="M558.60 39.10 L569.00 29.50 L579.30 39.10" fill="none" stroke="#000" stroke-width="1.2"/>
<path d="M553.10 44.60 L543.00 55.20 L553.10 65.80" fill="none" stroke="#000" stroke-width="1.2"/>
<path d="M585.30 44.60 L594.90 55.20 L585.30 65.80" fill="none" stroke="#000" stroke-width="1.2"/>
<path d="M558.60 71.30 L569.00 80.90 L579.30 71.30" fill="none" stroke="#000" stroke-width="1.2"/>
<line x1="558.6" y1="39.1" x2="569.0" y2="34.5" stroke="#000" stroke-width="0.9"/>
<path d="M558.60 39.10 L562.97 35.07 L563.28 37.03 Z" fill="#000"/>
<line x1="579.3" y1="39.1" x2="569.0" y2="34.5" stroke="#000" stroke-width="0.9"/>
<path d="M579.30 39.10 L574.97 35.07 L574.66 37.03 Z" fill="#000"/>
<line x1="558.6" y1="71.3" x2="569.0" y2="76.8" stroke="#000" stroke-width="0.9"/>
<path d="M558.60 71.30 L562.97 75.33 L563.28 73.77 Z" fill="#000"/>
<line x1="579.3" y1="71.3" x2="569.0" y2="76.8" stroke="#000" stroke-width="0.9"/>
<path d="M579.30 71.30 L574.97 75.33 L574.66 73.77 Z" fill="#000"/>
<line x1="553.1" y1="44.6" x2="547.5" y2="55.2" stroke="#000" stroke-width="0.9"/>
<path d="M553.10 44.60 L548.86 49.05 L550.58 49.37 Z" fill="#000"/>
<line x1="553.1" y1="65.8" x2="547.5" y2="55.2" stroke="#000" stroke-width="0.9"/>
<path d="M553.10 65.80 L548.86 61.35 L550.58 61.03 Z" fill="#000"/>
<line x1="585.3" y1="44.6" x2="590.8" y2="55.2" stroke="#000" stroke-width="0.9"/>
<path d="M585.30 44.60 L589.33 49.05 L587.77 49.37 Z" fill="#000"/>
<line x1="585.3" y1="65.8" x2="590.8" y2="55.2" stroke="#000" stroke-width="0.9"/>
<path d="M585.30 65.80 L589.33 61.35 L587.77 61.03 Z" fill="#000"/>
<rect x="343.50" y="4.80" width="254.50" height="196.20" fill="none" stroke="#8a8a8a" stroke-width="1"/>
<line x1="598.00" y1="4.80" x2="598.00" y2="201.00" stroke="#787878" stroke-width="1.1"/>
<line x1="343.00" y1="201.20" x2="598.50" y2="201.20" stroke="#8c8c8c" stroke-width="1.80"/>
<line x1="343.50" y1="4.80" x2="343.50" y2="201.00" stroke="#9c9c9c" stroke-width="1.1"/>
<line x1="343.50" y1="201.00" x2="345.70" y2="201.00" stroke="#777" stroke-width="0.8"/>
<text x="330.80" y="205.60" font-size="11.00" font-family='"Liberation Sans", Arial, sans-serif' text-anchor="middle" fill="#262626">0</text>
<line x1="343.50" y1="172.97" x2="345.70" y2="172.97" stroke="#777" stroke-width="0.8"/>
<text x="332.10" y="177.57" font-size="11.00" font-family='"Liberation Sans", Arial, sans-serif' text-anchor="middle" fill="#262626">0.5</text>
<line x1="343.50" y1="144.94" x2="345.70" y2="144.94" stroke="#777" stroke-width="0.8"/>
<text x="330.80" y="149.54" font-size="11.00" font-family='"Liberation Sans", Arial, sans-serif' text-anchor="middle" fill="#262626">1</text>
<line x1="343.50" y1="116.91" x2="345.70" y2="116.91" stroke="#777" stroke-width="0.8"/>
<text x="332.10" y="121.51" font-size="11.00" font-family='"Liberation Sans", Arial, sans-serif' text-anchor="middle" fill="#262626">1.5</text>
<line x1="343.50" y1="88.89" x2="345.70" y2="88.89" stroke="#777" stroke-width="0.8"/>
<text x="330.80" y="93.49" font-size="11.00" font-family='"Liberation Sans", Arial, sans-serif' text-anchor="middle" fill="#262626">2</text>
<line x1="343.50" y1="60.86" x2="345.70" y2="60.86" stroke="#777" stroke-width="0.8"/>
<text x="332.10" y="65.46" font-size="11.00" font-family='"Liberation Sans", Arial, sans-serif' text-anchor="middle" fill="#262626">2.5</text>
<line x1="343.50" y1="32.83" x2="345.70" y2="32.83" stroke="#777" stroke-width="0.8"/>
<text x="330.80" y="37.43" font-size="11.00" font-family='"Liberation Sans", Arial, sans-serif' text-anchor="middle" fill="#262626">3</text>
<line x1="343.50" y1="4.80" x2="345.70" y2="4.80" stroke="#777" stroke-width="0.8"/>
<text x="332.10" y="9.40" font-size="11.00" font-family='"Liberation Sans", Arial, sans-serif' text-anchor="middle" fill="#262626">3.5</text>
<line x1="428.33" y1="201.00" x2="428.33" y2="198.80" stroke="#555" stroke-width="0.8"/>
<line x1="513.17" y1="201.00" x2="513.17" y2="198.80" stroke="#555" stroke-width="0.8"/>
<text x="343.50" y="216.50" font-size="12.50" font-family='"Liberation Serif", "Times New Roman", serif' text-anchor="middle" fill="#262626">Γ</text>
<text x="598.00" y="216.50" font-size="12.50" font-family='"Liberation Serif", "Times New Roman", serif' text-anchor="middle" fill="#262626">Γ</text>
<text x="428.33" y="216.20" font-size="10.50" font-family='"Liberation Sans", Arial, sans-serif' text-anchor="middle" fill="#262626">X</text>
<text x="513.17" y="216.20" font-size="10.50" font-family='"Liberation Sans", Arial, sans-serif' text-anchor="middle" fill="#262626">M</text>
<text x="471.30" y="230.90" font-size="12.00" font-family='"Liberation Serif", "Times New Roman", serif' text-anchor="middle" fill="#1a1a1a" stroke="#1a1a1a" stroke-width="0.22">Wave vector k</text>
<text x="319.80" y="102.60" font-size="12" font-family='"Liberation Serif", "Times New Roman", serif' text-anchor="middle" fill="#1a1a1a" stroke="#1a1a1a" stroke-width="0.22" transform="rotate(-90 319.80 102.60)">Frequency/kHz</text>
<text transform="translate(429.87 253.70) scale(1.35 1)" font-size="15.3" font-family='"Liberation Serif", "Noto Serif CJK SC", "Noto Sans CJK SC", serif' fill="#1a1a1a">（</text>
<text x="452.40" y="253.70" font-size="18.00" font-family='"Liberation Serif", "Times New Roman", serif' text-anchor="start" fill="#111" stroke="#111" stroke-width="0.3">b</text>
<text transform="translate(461.96 253.70) scale(1.35 1)" font-size="15.3" font-family='"Liberation Serif", "Noto Serif CJK SC", "Noto Sans CJK SC", serif' fill="#1a1a1a">）</text>
<rect x="33.20" y="289.80" width="253.10" height="5.10" fill="#999999"/>
<rect x="33.20" y="303.70" width="253.10" height="103.10" fill="#999999"/>
<rect x="33.20" y="414.50" width="253.10" height="9.10" fill="#999999"/>
<path d="M33.20 283.20 C62.13 283.20 91.07 283.18 120.00 283.20 C146.67 283.22 173.33 283.28 200.00 283.30 C228.77 283.32 257.53 283.30 286.30 283.30" fill="none" stroke="#4040f6" stroke-width="1.20" stroke-linejoin="round" stroke-linecap="round"/>
<path d="M33.20 284.60 C62.13 284.60 91.07 284.62 120.00 284.60 C146.67 284.58 173.33 284.62 200.00 284.50 C216.67 284.42 233.33 284.14 250.00 284.00 C262.10 283.90 274.20 283.87 286.30 283.80" fill="none" stroke="#4040f6" stroke-width="1.20" stroke-linejoin="round" stroke-linecap="round"/>
<path d="M33.20 289.30 C117.57 289.30 201.93 289.30 286.30 289.30" fill="none" stroke="#4040f6" stroke-width="1.20" stroke-linejoin="round" stroke-linecap="round"/>
<path d="M33.20 295.30 C42.13 295.43 51.07 295.38 60.00 295.70 C66.67 295.94 73.33 296.63 80.00 297.00 C86.60 297.36 93.20 297.78 99.80 297.90 C113.20 298.15 126.60 298.09 140.00 298.10 C160.00 298.12 180.00 298.17 200.00 298.00 C215.00 297.87 230.00 297.48 245.00 297.20 C258.77 296.94 272.53 296.67 286.30 296.40" fill="none" stroke="#4040f6" stroke-width="1.20" stroke-linejoin="round" stroke-linecap="round"/>
<path d="M33.20 300.80 C42.13 300.67 51.07 300.56 60.00 300.40 C73.33 300.16 86.67 299.83 100.00 299.60 C113.33 299.37 126.67 299.11 140.00 299.00 C160.00 298.84 180.00 298.74 200.00 298.80 C215.00 298.84 230.00 299.06 245.00 299.30 C258.77 299.52 272.53 299.90 286.30 300.20" fill="none" stroke="#4040f6" stroke-width="1.20" stroke-linejoin="round" stroke-linecap="round"/>
<path d="M33.20 408.00 C61.33 408.57 89.47 409.21 117.60 409.70 C131.73 409.95 145.87 410.07 160.00 410.20 C174.00 410.33 188.01 410.74 202.00 410.50 C214.67 410.28 227.33 409.22 240.00 408.80 C255.43 408.29 270.87 408.07 286.30 407.70" fill="none" stroke="#4040f6" stroke-width="1.20" stroke-linejoin="round" stroke-linecap="round"/>
<path d="M33.20 414.00 C45.47 413.50 57.73 412.99 70.00 412.50 C85.87 411.86 101.73 410.94 117.60 410.60 C131.73 410.30 145.87 410.57 160.00 410.60 C174.00 410.63 188.01 410.46 202.00 410.80 C218.01 411.19 234.00 412.12 250.00 412.80 C262.10 413.32 274.20 413.87 286.30 414.40" fill="none" stroke="#4040f6" stroke-width="1.20" stroke-linejoin="round" stroke-linecap="round"/>
<path d="M33.20 424.70 C61.33 424.73 89.47 424.47 117.60 424.80 C131.74 424.97 145.88 425.46 160.00 426.20 C174.01 426.93 188.00 429.20 202.00 429.20 C214.67 429.20 227.32 427.04 240.00 426.20 C249.99 425.54 260.00 425.11 270.00 424.70 C275.43 424.48 280.87 424.43 286.30 424.30" fill="none" stroke="#4040f6" stroke-width="1.20" stroke-linejoin="round" stroke-linecap="round"/>
<path d="M33.20 424.90 C39.10 424.93 45.06 424.33 50.90 425.00 C59.93 426.03 68.82 428.43 77.80 430.00 C85.18 431.29 92.57 432.61 100.00 433.60 C105.84 434.38 111.73 435.44 117.60 435.30 C131.73 434.97 145.86 433.10 160.00 432.20 C173.99 431.30 188.06 429.46 202.00 429.90 C211.40 430.20 220.65 433.00 230.00 434.40 C236.65 435.40 243.30 436.56 250.00 437.10 C262.07 438.06 274.20 438.30 286.30 438.90" fill="none" stroke="#4040f6" stroke-width="1.20" stroke-linejoin="round" stroke-linecap="round"/>
<path d="M33.20 427.30 C45.60 427.93 58.04 428.16 70.40 429.20 C78.64 429.89 86.80 431.41 95.00 432.50 C102.53 433.51 110.03 434.93 117.60 435.50 C131.70 436.56 145.87 436.68 160.00 437.40 C174.00 438.11 188.06 440.12 202.00 439.80 C209.73 439.62 217.32 437.12 225.00 435.90 C233.32 434.58 241.67 433.44 250.00 432.20 C256.67 431.21 263.32 430.10 270.00 429.20 C275.42 428.47 280.87 427.93 286.30 427.30" fill="none" stroke="#4040f6" stroke-width="1.20" stroke-linejoin="round" stroke-linecap="round"/>
<path d="M33.20 438.60 C48.80 438.33 64.40 438.15 80.00 437.80 C92.54 437.52 105.07 436.53 117.60 436.70 C131.74 436.89 145.86 438.33 160.00 438.90 C173.99 439.46 188.06 439.04 202.00 440.10 C211.39 440.81 220.79 442.25 230.00 444.20 C240.12 446.35 250.12 449.28 260.00 452.40 C268.89 455.21 277.53 458.80 286.30 462.00" fill="none" stroke="#4040f6" stroke-width="1.20" stroke-linejoin="round" stroke-linecap="round"/>
<path d="M33.20 462.00 L117.60 435.60" fill="none" stroke="#4040f6" stroke-width="1.20" stroke-linejoin="round" stroke-linecap="round"/>
<path d="M33.20 462.00 C37.13 461.77 41.07 461.51 45.00 461.30 C50.00 461.04 55.01 460.92 60.00 460.60 C70.01 459.96 79.99 458.94 90.00 458.40 C100.99 457.81 112.01 457.80 123.00 457.20 C135.34 456.53 147.66 455.35 160.00 454.60 C173.99 453.75 188.00 452.54 202.00 452.40 C211.33 452.31 220.70 453.07 230.00 453.90 C240.03 454.80 250.03 456.17 260.00 457.60 C268.80 458.87 277.53 460.53 286.30 462.00" fill="none" stroke="#4040f6" stroke-width="1.20" stroke-linejoin="round" stroke-linecap="round"/>
<text x="192.70" y="315.10" font-size="8.50" font-family='"Liberation Sans", Arial, sans-serif' font-weight="bold" fill="#22225e" textLength="16.20" lengthAdjust="spacingAndGlyphs">Cera</text>
<text x="192.70" y="325.30" font-size="8.50" font-family='"Liberation Sans", Arial, sans-serif' font-weight="bold" fill="#22225e" textLength="7.40" lengthAdjust="spacingAndGlyphs">Al</text>
<line x1="214.90" y1="312.50" x2="233.90" y2="312.50" stroke="#ff1010" stroke-width="2.00"/>
<line x1="214.90" y1="323.30" x2="233.90" y2="323.30" stroke="#000" stroke-width="2.00"/>
<line x1="248.5" y1="310.3" x2="268.5" y2="310.3" stroke="#d04040" stroke-width="1.15"/>
<line x1="268.5" y1="310.3" x2="258.5" y2="327.0" stroke="#000" stroke-width="1.15"/>
<line x1="258.5" y1="327.0" x2="248.5" y2="310.3" stroke="#000" stroke-width="1.15"/>
<line x1="233.6" y1="335.8" x2="253.4" y2="335.8" stroke="#000" stroke-width="1.15"/>
<line x1="253.4" y1="335.8" x2="243.3" y2="353.2" stroke="#000" stroke-width="1.15"/>
<line x1="243.3" y1="353.2" x2="233.6" y2="335.8" stroke="#d04040" stroke-width="1.15"/>
<line x1="263.3" y1="335.8" x2="283.3" y2="335.8" stroke="#000" stroke-width="1.15"/>
<line x1="283.3" y1="335.8" x2="273.6" y2="353.0" stroke="#d04040" stroke-width="1.15"/>
<line x1="273.6" y1="353.0" x2="263.3" y2="335.8" stroke="#000" stroke-width="1.15"/>
<path d="M241.80 324.00 Q251.40 326.70 258.50 327.00 Q265.56 326.70 275.10 324.00 Q267.60 330.44 263.30 335.80 Q260.54 342.43 258.50 352.20 Q256.33 342.43 253.40 335.80 Q249.24 330.44 241.80 324.00 Z" fill="none" stroke="#000" stroke-width="1.30" stroke-linejoin="miter"/>
<path d="M241.80 324.00 L246.21 328.48 L248.15 325.14 Z" fill="#000"/>
<path d="M275.10 324.00 L268.79 325.14 L270.62 328.48 Z" fill="#000"/>
<path d="M258.50 352.20 L260.32 345.97 L256.56 345.97 Z" fill="#000"/>
<circle cx="258.50" cy="327.00" r="0.9" fill="#000"/>
<circle cx="263.30" cy="335.80" r="0.9" fill="#000"/>
<circle cx="253.40" cy="335.80" r="0.9" fill="#000"/>
<line x1="203.3" y1="336.4" x2="193.6" y2="353.4" stroke="#d04040" stroke-width="1.15"/>
<line x1="193.6" y1="353.4" x2="213.1" y2="353.4" stroke="#000" stroke-width="1.15"/>
<line x1="213.1" y1="353.4" x2="203.3" y2="336.4" stroke="#000" stroke-width="1.15"/>
<line x1="233.6" y1="336.0" x2="223.8" y2="353.4" stroke="#000" stroke-width="1.15"/>
<line x1="223.8" y1="353.4" x2="243.3" y2="353.4" stroke="#000" stroke-width="1.15"/>
<line x1="243.3" y1="353.4" x2="233.6" y2="336.0" stroke="#d04040" stroke-width="1.15"/>
<line x1="218.5" y1="362.6" x2="208.5" y2="379.2" stroke="#000" stroke-width="1.15"/>
<line x1="208.5" y1="379.2" x2="228.5" y2="379.2" stroke="#d04040" stroke-width="1.15"/>
<line x1="228.5" y1="379.2" x2="218.5" y2="362.6" stroke="#000" stroke-width="1.15"/>
<path d="M218.50 337.70 Q220.75 347.19 223.80 353.40 Q227.81 359.18 235.10 365.90 Q225.56 363.09 218.50 362.60 Q211.40 363.09 201.80 365.90 Q209.11 359.18 213.10 353.40 Q216.21 347.19 218.50 337.70 Z" fill="none" stroke="#000" stroke-width="1.30" stroke-linejoin="miter"/>
<path d="M218.50 337.70 L216.45 343.67 L220.51 343.67 Z" fill="#000"/>
<path d="M235.10 365.90 L230.81 361.15 L228.79 364.65 Z" fill="#000"/>
<path d="M201.80 365.90 L208.15 364.65 L206.09 361.15 Z" fill="#000"/>
<circle cx="223.80" cy="353.40" r="0.9" fill="#000"/>
<circle cx="218.50" cy="362.60" r="0.9" fill="#000"/>
<circle cx="213.10" cy="353.40" r="0.9" fill="#000"/>
<rect x="33.20" y="266.60" width="253.10" height="195.40" fill="none" stroke="#8a8a8a" stroke-width="1"/>
<line x1="286.30" y1="266.60" x2="286.30" y2="462.00" stroke="#787878" stroke-width="1.1"/>
<line x1="32.70" y1="462.20" x2="286.80" y2="462.20" stroke="#8c8c8c" stroke-width="1.80"/>
<line x1="33.20" y1="266.60" x2="33.20" y2="462.00" stroke="#9c9c9c" stroke-width="1.1"/>
<line x1="33.20" y1="462.00" x2="35.40" y2="462.00" stroke="#777" stroke-width="0.8"/>
<text x="20.20" y="466.60" font-size="11.00" font-family='"Liberation Sans", Arial, sans-serif' text-anchor="middle" fill="#262626">0</text>
<line x1="33.20" y1="437.57" x2="35.40" y2="437.57" stroke="#777" stroke-width="0.8"/>
<text x="21.50" y="442.18" font-size="11.00" font-family='"Liberation Sans", Arial, sans-serif' text-anchor="middle" fill="#262626">0.5</text>
<line x1="33.20" y1="413.15" x2="35.40" y2="413.15" stroke="#777" stroke-width="0.8"/>
<text x="20.20" y="417.75" font-size="11.00" font-family='"Liberation Sans", Arial, sans-serif' text-anchor="middle" fill="#262626">1</text>
<line x1="33.20" y1="388.73" x2="35.40" y2="388.73" stroke="#777" stroke-width="0.8"/>
<text x="21.50" y="393.33" font-size="11.00" font-family='"Liberation Sans", Arial, sans-serif' text-anchor="middle" fill="#262626">1.5</text>
<line x1="33.20" y1="364.30" x2="35.40" y2="364.30" stroke="#777" stroke-width="0.8"/>
<text x="20.20" y="368.90" font-size="11.00" font-family='"Liberation Sans", Arial, sans-serif' text-anchor="middle" fill="#262626">2</text>
<line x1="33.20" y1="339.88" x2="35.40" y2="339.88" stroke="#777" stroke-width="0.8"/>
<text x="21.50" y="344.48" font-size="11.00" font-family='"Liberation Sans", Arial, sans-serif' text-anchor="middle" fill="#262626">2.5</text>
<line x1="33.20" y1="315.45" x2="35.40" y2="315.45" stroke="#777" stroke-width="0.8"/>
<text x="20.20" y="320.05" font-size="11.00" font-family='"Liberation Sans", Arial, sans-serif' text-anchor="middle" fill="#262626">3</text>
<line x1="33.20" y1="291.03" x2="35.40" y2="291.03" stroke="#777" stroke-width="0.8"/>
<text x="21.50" y="295.63" font-size="11.00" font-family='"Liberation Sans", Arial, sans-serif' text-anchor="middle" fill="#262626">3.5</text>
<line x1="33.20" y1="266.60" x2="35.40" y2="266.60" stroke="#777" stroke-width="0.8"/>
<text x="20.20" y="271.20" font-size="11.00" font-family='"Liberation Sans", Arial, sans-serif' text-anchor="middle" fill="#262626">4</text>
<line x1="117.57" y1="462.00" x2="117.57" y2="459.80" stroke="#555" stroke-width="0.8"/>
<line x1="201.93" y1="462.00" x2="201.93" y2="459.80" stroke="#555" stroke-width="0.8"/>
<text x="33.20" y="477.50" font-size="12.50" font-family='"Liberation Serif", "Times New Roman", serif' text-anchor="middle" fill="#262626">Γ</text>
<text x="286.30" y="477.50" font-size="12.50" font-family='"Liberation Serif", "Times New Roman", serif' text-anchor="middle" fill="#262626">Γ</text>
<text x="117.57" y="477.20" font-size="10.50" font-family='"Liberation Sans", Arial, sans-serif' text-anchor="middle" fill="#262626">X</text>
<text x="201.93" y="477.20" font-size="10.50" font-family='"Liberation Sans", Arial, sans-serif' text-anchor="middle" fill="#262626">M</text>
<text x="159.90" y="491.60" font-size="12.00" font-family='"Liberation Serif", "Times New Roman", serif' text-anchor="middle" fill="#1a1a1a" stroke="#1a1a1a" stroke-width="0.22">Wave vector k</text>
<text x="9.20" y="363.30" font-size="12" font-family='"Liberation Serif", "Times New Roman", serif' text-anchor="middle" fill="#1a1a1a" stroke="#1a1a1a" stroke-width="0.22" transform="rotate(-90 9.20 363.30)">Frequency/kHz</text>
<text transform="translate(120.57 515.60) scale(1.35 1)" font-size="15.3" font-family='"Liberation Serif", "Noto Serif CJK SC", "Noto Sans CJK SC", serif' fill="#1a1a1a">（</text>
<text x="142.60" y="515.60" font-size="18.00" font-family='"Liberation Serif", "Times New Roman", serif' text-anchor="start" fill="#111" stroke="#111" stroke-width="0.3">c</text>
<text transform="translate(151.36 515.60) scale(1.35 1)" font-size="15.3" font-family='"Liberation Serif", "Noto Serif CJK SC", "Noto Sans CJK SC", serif' fill="#1a1a1a">）</text>
<rect x="343.70" y="274.60" width="252.50" height="6.60" fill="#999999"/>
<rect x="343.70" y="292.00" width="252.50" height="31.90" fill="#999999"/>
<rect x="343.70" y="329.50" width="252.50" height="32.70" fill="#999999"/>
<rect x="343.70" y="364.60" width="252.50" height="3.20" fill="#999999"/>
<rect x="343.70" y="369.90" width="252.50" height="32.00" fill="#999999"/>
<rect x="343.70" y="406.20" width="252.50" height="9.40" fill="#999999"/>
<path d="M343.70 274.20 C379.13 274.23 414.57 274.26 450.00 274.30 C480.00 274.33 510.00 274.47 540.00 274.40 C553.33 274.37 566.67 274.21 580.00 274.00 C585.40 273.91 590.80 273.67 596.20 273.50" fill="none" stroke="#4040f6" stroke-width="1.20" stroke-linejoin="round" stroke-linecap="round"/>
<path d="M343.70 283.40 C349.67 282.87 355.62 281.99 361.60 281.80 C375.25 281.36 388.93 281.58 402.60 281.50 C425.07 281.38 447.53 281.13 470.00 281.20 C480.00 281.23 490.00 281.52 500.00 281.80 C510.00 282.08 520.02 283.03 530.00 282.90 C535.02 282.83 539.99 281.20 545.00 281.20 C551.66 281.20 558.32 282.73 565.00 282.90 C575.39 283.16 585.80 282.63 596.20 282.50" fill="none" stroke="#4040f6" stroke-width="1.20" stroke-linejoin="round" stroke-linecap="round"/>
<path d="M343.70 283.40 C349.13 284.77 354.55 286.20 360.00 287.50 C365.55 288.83 371.14 291.21 376.70 291.30 C381.14 291.37 385.63 289.30 390.00 288.00 C394.26 286.73 398.28 284.34 402.60 283.60 C406.81 282.88 411.35 283.02 415.60 283.60 C419.65 284.15 423.47 286.12 427.50 287.00 C433.27 288.26 439.12 289.41 445.00 290.00 C453.29 290.84 461.66 291.15 470.00 291.30 C476.66 291.42 483.37 291.40 490.00 290.80 C497.37 290.13 504.66 288.06 512.00 287.50 C514.66 287.30 517.32 288.41 520.00 288.50 C523.32 288.61 526.71 287.72 530.00 288.10 C535.05 288.69 539.96 290.86 545.00 291.40 C548.29 291.76 551.71 291.28 555.00 290.80 C558.37 290.31 561.63 288.77 565.00 288.50 C568.29 288.24 571.77 289.78 575.00 289.20 C580.11 288.28 584.96 285.59 590.00 284.00 C592.03 283.36 594.13 283.00 596.20 282.50" fill="none" stroke="#4040f6" stroke-width="1.20" stroke-linejoin="round" stroke-linecap="round"/>
<path d="M343.70 324.80 C347.47 324.87 351.27 324.63 355.00 325.00 C357.97 325.30 360.84 326.34 363.80 326.80 C368.51 327.54 373.27 328.60 378.00 328.60 C382.27 328.60 386.53 327.37 390.80 326.80 C395.53 326.17 400.24 325.23 405.00 325.00 C413.31 324.60 421.67 324.90 430.00 324.90 C438.33 324.90 446.67 324.92 455.00 325.00 C460.00 325.05 465.00 325.28 470.00 325.30 C480.00 325.34 490.00 325.14 500.00 325.20 C506.67 325.24 513.38 325.03 520.00 325.60 C525.04 326.03 529.96 327.73 535.00 328.20 C539.96 328.66 545.05 328.86 550.00 328.40 C555.05 327.93 559.93 325.77 565.00 325.40 C575.33 324.64 585.80 325.13 596.20 325.00" fill="none" stroke="#4040f6" stroke-width="1.20" stroke-linejoin="round" stroke-linecap="round"/>
<path d="M343.70 328.60 C347.47 328.53 351.26 328.73 355.00 328.40 C357.96 328.13 360.85 327.24 363.80 326.80 C368.52 326.10 373.27 325.00 378.00 325.00 C382.27 325.00 386.53 326.23 390.80 326.80 C395.53 327.43 400.24 328.38 405.00 328.60 C413.31 328.98 421.67 328.62 430.00 328.60 C438.33 328.58 446.67 328.54 455.00 328.50 C460.00 328.47 465.00 328.41 470.00 328.40 C480.00 328.38 490.00 328.42 500.00 328.40 C506.67 328.39 513.39 328.87 520.00 328.30 C525.05 327.87 529.95 325.87 535.00 325.40 C539.95 324.94 545.04 325.04 550.00 325.50 C555.04 325.97 559.95 327.86 565.00 328.20 C575.35 328.89 585.80 328.47 596.20 328.60" fill="none" stroke="#4040f6" stroke-width="1.20" stroke-linejoin="round" stroke-linecap="round"/>
<line x1="343.70" y1="363.40" x2="596.20" y2="363.40" stroke="#ffffff" stroke-width="1.20"/>
<path d="M343.70 362.60 C355.80 362.67 367.90 362.80 380.00 362.80 C393.33 362.80 406.67 362.60 420.00 362.60 C436.67 362.60 453.33 362.82 470.00 362.80 C486.67 362.78 503.33 362.50 520.00 362.50 C533.33 362.50 546.67 362.83 560.00 362.80 C572.07 362.77 584.13 362.47 596.20 362.30" fill="none" stroke="#4040f6" stroke-width="1.20" stroke-linejoin="round" stroke-linecap="round"/>
<path d="M343.70 364.00 C355.80 364.07 367.90 364.20 380.00 364.20 C393.33 364.20 406.67 364.01 420.00 364.00 C436.67 363.98 453.33 364.10 470.00 364.10 C486.67 364.10 503.33 363.98 520.00 364.00 C533.33 364.01 546.67 364.23 560.00 364.20 C572.07 364.17 584.13 363.93 596.20 363.80" fill="none" stroke="#4040f6" stroke-width="1.20" stroke-linejoin="round" stroke-linecap="round"/>
<line x1="343.70" y1="367.90" x2="596.20" y2="367.90" stroke="#c8c8c0" stroke-width="0.70"/>
<path d="M343.70 369.30 C362.47 369.30 381.23 369.31 400.00 369.30 C423.33 369.28 446.67 369.18 470.00 369.20 C490.00 369.22 510.00 369.43 530.00 369.40 C552.07 369.37 574.13 369.13 596.20 369.00" fill="none" stroke="#4040f6" stroke-width="1.20" stroke-linejoin="round" stroke-linecap="round"/>
<line x1="343.70" y1="403.90" x2="596.20" y2="403.90" stroke="#ffffff" stroke-width="1.60"/>
<path d="M343.70 402.60 C362.47 402.63 381.23 402.70 400.00 402.70 C423.33 402.70 446.67 402.58 470.00 402.60 C490.00 402.62 510.00 402.83 530.00 402.80 C552.07 402.77 574.13 402.53 596.20 402.40" fill="none" stroke="#4040f6" stroke-width="1.20" stroke-linejoin="round" stroke-linecap="round"/>
<path d="M343.70 405.30 C362.47 405.27 381.23 405.19 400.00 405.20 C423.33 405.22 446.67 405.40 470.00 405.40 C490.00 405.40 510.00 405.20 530.00 405.20 C552.07 405.20 574.13 405.33 596.20 405.40" fill="none" stroke="#4040f6" stroke-width="1.20" stroke-linejoin="round" stroke-linecap="round"/>
<path d="M343.70 462.00 C346.47 457.00 349.23 452.00 352.00 447.00 C355.33 441.00 358.26 434.72 362.00 429.00 C364.26 425.55 366.91 422.10 370.00 419.50 C371.81 417.97 374.45 416.69 376.70 416.60 C378.78 416.52 381.20 417.73 383.00 419.00 C385.64 420.86 387.97 423.42 390.00 426.00 C392.70 429.42 394.92 433.26 397.20 437.00 C399.59 440.93 401.74 445.00 404.00 449.00 C406.44 453.33 408.87 457.67 411.30 462.00" fill="none" stroke="#4040f6" stroke-width="1.20" stroke-linejoin="round" stroke-linecap="round"/>
<path d="M343.70 442.40 C345.80 442.10 348.04 442.22 350.00 441.50 C352.48 440.59 355.00 439.25 357.00 437.50 C360.33 434.58 362.50 430.15 366.00 427.50 C369.06 425.18 373.15 422.60 376.70 422.60 C380.15 422.60 383.91 425.36 387.00 427.50 C390.35 429.82 392.93 433.24 396.00 436.00 C397.93 437.74 399.83 439.62 402.00 441.00 C403.50 441.95 405.28 442.74 407.00 443.00 C408.61 443.24 410.49 443.12 412.00 442.50 C414.16 441.62 415.95 439.76 418.00 438.50 C421.25 436.49 424.60 434.63 427.90 432.70" fill="none" stroke="#4040f6" stroke-width="1.20" stroke-linejoin="round" stroke-linecap="round"/>
<path d="M427.90 432.70 C430.60 433.63 433.25 434.77 436.00 435.50 C438.88 436.27 441.96 437.47 444.80 437.20 C447.30 436.97 449.77 435.35 452.00 434.00 C454.83 432.28 457.15 429.70 460.00 428.00 C463.02 426.20 466.25 424.46 469.60 423.50 C472.91 422.56 476.58 422.00 480.00 422.30 C484.05 422.66 488.09 424.19 492.00 425.50 C494.75 426.42 497.54 427.50 500.00 429.00 C502.20 430.34 503.92 432.44 506.00 434.00 C507.92 435.44 510.00 436.67 512.00 438.00" fill="none" stroke="#4040f6" stroke-width="1.20" stroke-linejoin="round" stroke-linecap="round"/>
<path d="M411.30 462.00 L420.00 443.00 L427.90 428.40" fill="none" stroke="#4040f6" stroke-width="1.20" stroke-linejoin="round" stroke-linecap="round"/>
<path d="M427.90 428.40 C433.60 426.93 439.34 425.60 445.00 424.00 C453.24 421.67 461.30 418.43 469.60 416.60 C472.96 415.86 476.59 415.84 480.00 416.30 C485.06 416.98 490.06 418.58 495.00 420.00 C498.39 420.98 501.63 422.47 505.00 423.50 C507.29 424.20 509.67 424.63 512.00 425.20" fill="none" stroke="#4040f6" stroke-width="1.20" stroke-linejoin="round" stroke-linecap="round"/>
<path d="M512.00 425.20 C514.67 423.27 517.02 420.24 520.00 419.40 C523.02 418.54 526.71 420.46 530.00 420.10 C535.05 419.56 540.00 416.70 545.00 416.70 C550.00 416.70 554.96 419.76 560.00 420.10 C563.96 420.36 568.15 418.08 572.00 418.50 C574.82 418.81 577.87 420.42 580.00 422.30 C582.21 424.25 583.54 427.32 585.00 430.00 C586.21 432.22 586.70 434.86 588.00 437.00 C589.03 438.69 590.41 440.43 592.00 441.50 C593.14 442.27 594.80 442.17 596.20 442.50" fill="none" stroke="#4040f6" stroke-width="1.20" stroke-linejoin="round" stroke-linecap="round"/>
<path d="M343.70 462.00 C345.80 459.67 347.65 457.04 350.00 455.00 C352.08 453.20 354.41 451.29 357.00 450.50 C361.08 449.26 365.65 449.11 370.00 448.90 C376.65 448.58 383.36 448.55 390.00 448.90 C393.36 449.08 396.84 449.49 400.00 450.50 C402.17 451.19 404.42 452.39 406.00 454.00 C408.19 456.22 409.53 459.33 411.30 462.00" fill="none" stroke="#4040f6" stroke-width="1.20" stroke-linejoin="round" stroke-linecap="round"/>
<path d="M512.00 438.00 C514.00 435.67 515.66 432.89 518.00 431.00 C519.99 429.39 522.50 428.19 525.00 427.50 C531.50 425.69 538.31 423.84 545.00 423.50 C549.97 423.24 555.14 424.44 560.00 425.70 C565.14 427.04 570.20 429.04 575.00 431.30 C578.20 432.80 581.28 434.77 584.00 437.00 C586.28 438.87 588.72 440.98 590.00 443.60 C592.79 449.31 594.13 455.87 596.20 462.00" fill="none" stroke="#4040f6" stroke-width="1.20" stroke-linejoin="round" stroke-linecap="round"/>
<path d="M411.30 462.00 C412.87 459.17 413.98 455.90 416.00 453.50 C417.21 452.06 419.21 451.19 421.00 450.50 C423.18 449.66 425.70 449.71 427.90 448.90 C430.70 447.87 433.34 446.37 436.00 445.00 C438.97 443.47 441.72 440.52 444.80 440.20 C448.05 439.86 451.63 441.97 455.00 443.00 C459.90 444.50 464.65 446.57 469.60 447.80 C472.98 448.64 476.56 449.49 480.00 449.20 C485.70 448.72 491.37 446.87 497.00 445.50 C502.03 444.27 507.27 443.38 512.00 441.40 C515.61 439.88 518.48 436.72 522.00 435.00 C524.48 433.79 527.57 432.11 530.00 432.60 C532.57 433.11 534.96 435.90 537.00 438.00 C539.96 441.04 542.17 447.65 545.00 448.00 C547.50 448.31 550.14 442.44 553.00 440.00 C556.14 437.31 559.34 433.75 563.00 432.60 C565.68 431.75 569.11 433.17 572.00 434.00 C574.77 434.80 577.72 435.79 580.00 437.50 C583.05 439.79 585.87 442.79 588.00 446.00 C591.27 450.95 593.47 456.67 596.20 462.00" fill="none" stroke="#4040f6" stroke-width="1.20" stroke-linejoin="round" stroke-linecap="round"/>
<text x="533.70" y="374.10" font-size="5.20" font-family='"Liberation Sans", Arial, sans-serif' font-weight="bold" fill="#22225e" textLength="9.90" lengthAdjust="spacingAndGlyphs">Cera</text>
<text x="533.70" y="380.10" font-size="5.20" font-family='"Liberation Sans", Arial, sans-serif' font-weight="bold" fill="#22225e" textLength="4.30" lengthAdjust="spacingAndGlyphs">Al</text>
<line x1="547.80" y1="372.60" x2="559.00" y2="372.60" stroke="#ff1010" stroke-width="1.30"/>
<line x1="547.80" y1="379.00" x2="559.00" y2="379.00" stroke="#000" stroke-width="1.30"/>
<path d="M563.70 392.80 L575.50 372.70 L587.20 392.80" fill="none" stroke="#111" stroke-width="1.0"/>
<line x1="563.7" y1="392.9" x2="587.2" y2="392.9" stroke="#666" stroke-width="1.8"/>
<path d="M569.40 382.40 L581.80 382.40 L575.50 393.50 Z" fill="none" stroke="#c86060" stroke-width="0.9"/>
<path d="M566.10 374.60 L575.50 369.40 L584.90 374.60" fill="none" stroke="#111" stroke-width="0.9"/>
<line x1="566.1" y1="374.6" x2="575.5" y2="372.7" stroke="#111" stroke-width="0.7"/>
<path d="M566.10 374.60 L570.33 372.26 L570.80 373.65 Z" fill="#111"/>
<line x1="584.9" y1="374.6" x2="575.5" y2="372.7" stroke="#111" stroke-width="0.7"/>
<path d="M584.90 374.60 L580.67 372.26 L580.20 373.65 Z" fill="#111"/>
<path d="M560.40 383.80 L560.80 394.20 L569.80 399.90" fill="none" stroke="#111" stroke-width="0.9"/>
<line x1="560.4" y1="383.8" x2="563.7" y2="392.8" stroke="#111" stroke-width="0.7"/>
<path d="M560.40 383.80 L560.58 388.48 L562.05 388.30 Z" fill="#111"/>
<line x1="569.8" y1="399.9" x2="563.7" y2="392.8" stroke="#111" stroke-width="0.7"/>
<path d="M569.80 399.90 L565.75 397.33 L566.75 396.35 Z" fill="#111"/>
<path d="M590.60 383.80 L590.20 394.20 L581.50 399.90" fill="none" stroke="#111" stroke-width="0.9"/>
<line x1="590.6" y1="383.8" x2="587.2" y2="392.8" stroke="#111" stroke-width="0.7"/>
<path d="M590.60 383.80 L590.42 388.48 L588.90 388.30 Z" fill="#111"/>
<line x1="581.5" y1="399.9" x2="587.2" y2="392.8" stroke="#111" stroke-width="0.7"/>
<path d="M581.50 399.90 L585.41 397.33 L584.35 396.35 Z" fill="#111"/>
<rect x="343.70" y="267.30" width="252.50" height="194.70" fill="none" stroke="#8a8a8a" stroke-width="1"/>
<line x1="596.20" y1="267.30" x2="596.20" y2="462.00" stroke="#787878" stroke-width="1.1"/>
<line x1="343.20" y1="462.20" x2="596.70" y2="462.20" stroke="#8c8c8c" stroke-width="1.80"/>
<line x1="343.70" y1="267.30" x2="343.70" y2="462.00" stroke="#9c9c9c" stroke-width="1.1"/>
<line x1="343.70" y1="462.00" x2="345.90" y2="462.00" stroke="#777" stroke-width="0.8"/>
<text x="330.80" y="466.60" font-size="11.00" font-family='"Liberation Sans", Arial, sans-serif' text-anchor="middle" fill="#262626">0</text>
<line x1="343.70" y1="445.77" x2="345.90" y2="445.77" stroke="#777" stroke-width="0.8"/>
<text x="332.10" y="450.38" font-size="11.00" font-family='"Liberation Sans", Arial, sans-serif' text-anchor="middle" fill="#262626">0.5</text>
<line x1="343.70" y1="429.55" x2="345.90" y2="429.55" stroke="#777" stroke-width="0.8"/>
<text x="330.80" y="434.15" font-size="11.00" font-family='"Liberation Sans", Arial, sans-serif' text-anchor="middle" fill="#262626">1</text>
<line x1="343.70" y1="413.32" x2="345.90" y2="413.32" stroke="#777" stroke-width="0.8"/>
<text x="332.10" y="417.93" font-size="11.00" font-family='"Liberation Sans", Arial, sans-serif' text-anchor="middle" fill="#262626">1.5</text>
<line x1="343.70" y1="397.10" x2="345.90" y2="397.10" stroke="#777" stroke-width="0.8"/>
<text x="330.80" y="401.70" font-size="11.00" font-family='"Liberation Sans", Arial, sans-serif' text-anchor="middle" fill="#262626">2</text>
<line x1="343.70" y1="380.88" x2="345.90" y2="380.88" stroke="#777" stroke-width="0.8"/>
<text x="332.10" y="385.48" font-size="11.00" font-family='"Liberation Sans", Arial, sans-serif' text-anchor="middle" fill="#262626">2.5</text>
<line x1="343.70" y1="364.65" x2="345.90" y2="364.65" stroke="#777" stroke-width="0.8"/>
<text x="330.80" y="369.25" font-size="11.00" font-family='"Liberation Sans", Arial, sans-serif' text-anchor="middle" fill="#262626">3</text>
<line x1="343.70" y1="348.43" x2="345.90" y2="348.43" stroke="#777" stroke-width="0.8"/>
<text x="332.10" y="353.03" font-size="11.00" font-family='"Liberation Sans", Arial, sans-serif' text-anchor="middle" fill="#262626">3.5</text>
<line x1="343.70" y1="332.20" x2="345.90" y2="332.20" stroke="#777" stroke-width="0.8"/>
<text x="330.80" y="336.80" font-size="11.00" font-family='"Liberation Sans", Arial, sans-serif' text-anchor="middle" fill="#262626">4</text>
<line x1="343.70" y1="315.98" x2="345.90" y2="315.98" stroke="#777" stroke-width="0.8"/>
<text x="332.10" y="320.58" font-size="11.00" font-family='"Liberation Sans", Arial, sans-serif' text-anchor="middle" fill="#262626">4.5</text>
<line x1="343.70" y1="299.75" x2="345.90" y2="299.75" stroke="#777" stroke-width="0.8"/>
<text x="330.80" y="304.35" font-size="11.00" font-family='"Liberation Sans", Arial, sans-serif' text-anchor="middle" fill="#262626">5</text>
<line x1="343.70" y1="283.53" x2="345.90" y2="283.53" stroke="#777" stroke-width="0.8"/>
<text x="332.10" y="288.13" font-size="11.00" font-family='"Liberation Sans", Arial, sans-serif' text-anchor="middle" fill="#262626">5.5</text>
<line x1="343.70" y1="267.30" x2="345.90" y2="267.30" stroke="#777" stroke-width="0.8"/>
<text x="330.80" y="271.90" font-size="11.00" font-family='"Liberation Sans", Arial, sans-serif' text-anchor="middle" fill="#262626">6</text>
<line x1="427.87" y1="462.00" x2="427.87" y2="459.80" stroke="#555" stroke-width="0.8"/>
<line x1="512.03" y1="462.00" x2="512.03" y2="459.80" stroke="#555" stroke-width="0.8"/>
<text x="343.70" y="477.50" font-size="12.50" font-family='"Liberation Serif", "Times New Roman", serif' text-anchor="middle" fill="#262626">Γ</text>
<text x="596.20" y="477.50" font-size="12.50" font-family='"Liberation Serif", "Times New Roman", serif' text-anchor="middle" fill="#262626">Γ</text>
<text x="427.87" y="477.20" font-size="10.50" font-family='"Liberation Sans", Arial, sans-serif' text-anchor="middle" fill="#262626">X</text>
<text x="512.03" y="477.20" font-size="10.50" font-family='"Liberation Sans", Arial, sans-serif' text-anchor="middle" fill="#262626">M</text>
<text x="470.20" y="491.40" font-size="12.00" font-family='"Liberation Serif", "Times New Roman", serif' text-anchor="middle" fill="#1a1a1a" stroke="#1a1a1a" stroke-width="0.22">Wave vector k</text>
<text x="320.10" y="363.60" font-size="12" font-family='"Liberation Serif", "Times New Roman", serif' text-anchor="middle" fill="#1a1a1a" stroke="#1a1a1a" stroke-width="0.22" transform="rotate(-90 320.10 363.60)">Frequency/kHz</text>
<text transform="translate(429.17 515.60) scale(1.35 1)" font-size="15.3" font-family='"Liberation Serif", "Noto Serif CJK SC", "Noto Sans CJK SC", serif' fill="#1a1a1a">（</text>
<text x="451.90" y="515.60" font-size="18.00" font-family='"Liberation Serif", "Times New Roman", serif' text-anchor="start" fill="#111" stroke="#111" stroke-width="0.3">d</text>
<text transform="translate(461.86 515.60) scale(1.35 1)" font-size="15.3" font-family='"Liberation Serif", "Noto Serif CJK SC", "Noto Sans CJK SC", serif' fill="#1a1a1a">）</text></svg>
</body></html>
